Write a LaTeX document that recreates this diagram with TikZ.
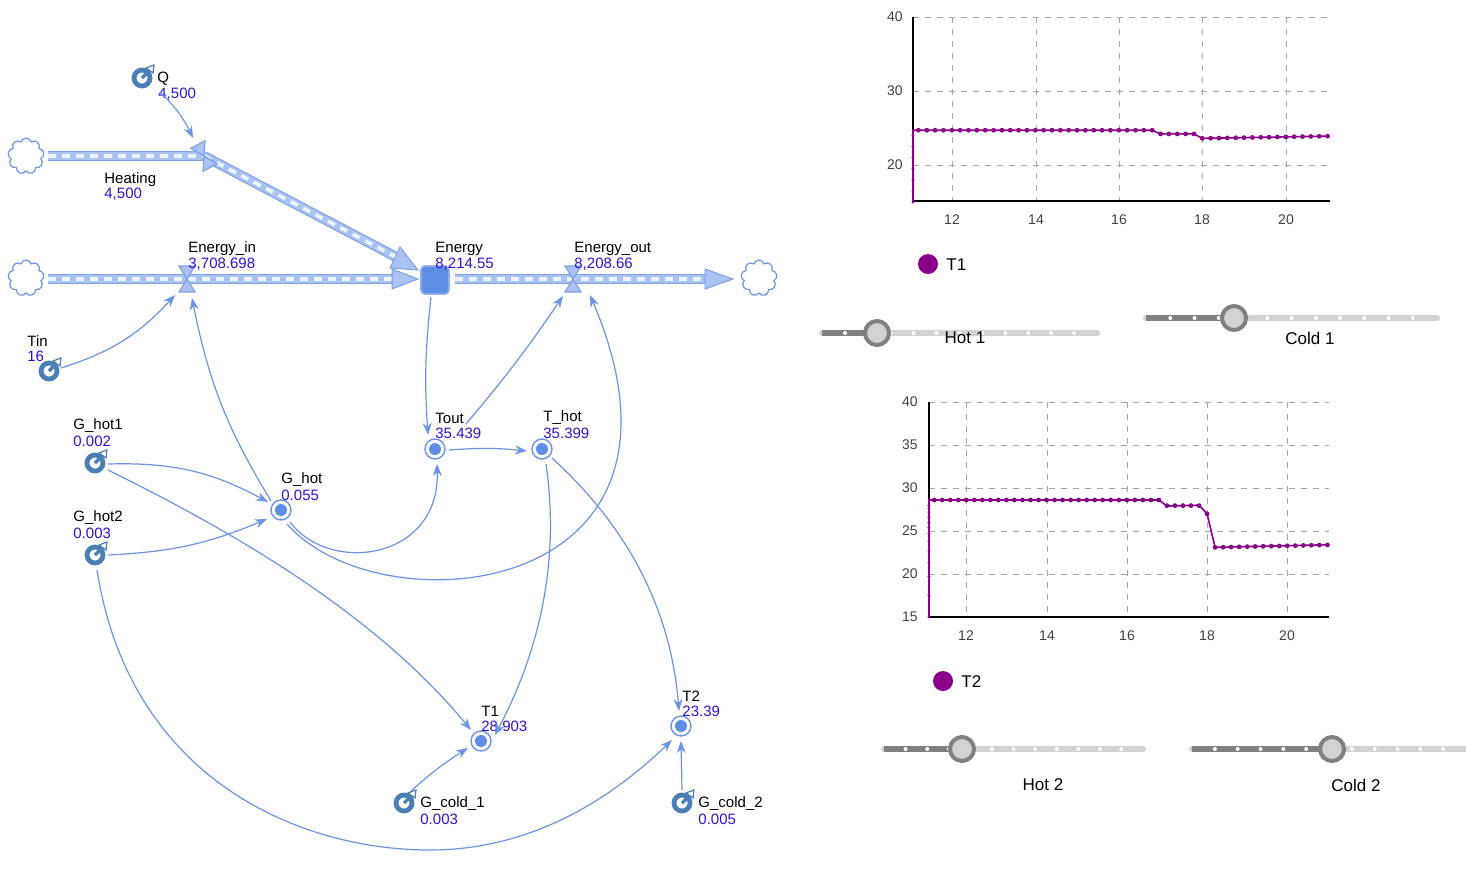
\documentclass[tikz,border=0pt]{standalone}
\usepackage{fontspec}
\setmainfont{Liberation Sans}
\usetikzlibrary{arrows.meta,shapes.symbols,shapes.geometric,calc}
\definecolor{lnk}{HTML}{6B93E6}
\definecolor{pipe}{HTML}{ABC3F2}
\definecolor{pipeb}{HTML}{7EA0E8}
\definecolor{conv}{HTML}{4A7FB5}
\definecolor{val}{HTML}{2E12D6}
\definecolor{plum}{HTML}{8B008B}
\definecolor{stk}{HTML}{5E8DE6}
\tikzset{
 lbl/.style={anchor=west,font=\fontsize{7.5}{8}\selectfont,inner sep=0pt},
 vl/.style={lbl,text=val},
 link/.style={draw=lnk,line width=0.6pt,-{Stealth[length=6pt,width=4.5pt]}},
 cld/.style={cloud,cloud puffs=9,draw=lnk,fill=white,line width=0.6pt,minimum width=18pt,minimum height=18pt,aspect=1,inner sep=0pt},
 auxo/.style={circle,draw=lnk,fill=white,line width=0.7pt,minimum size=10pt,inner sep=0pt},
 tick/.style={font=\fontsize{7}{8}\selectfont,text=black!75,inner sep=1pt},
 gridl/.style={gray!70,dashed,line width=0.4pt},
 pdot/.style={circle,fill=plum,inner sep=0pt,minimum size=2.4pt},
 knob/.style={circle,draw=gray,fill=gray!35,line width=2pt,minimum size=12pt,inner sep=0pt},
}
\newcommand{\pipeflow}[2]{%
 \draw[pipeb,line width=5pt] #1 -- #2;
 \draw[pipe,line width=3.8pt] #1 -- #2;
 \draw[white!80!pipe,line width=1.8pt,dash pattern=on 4pt off 3pt] #1 -- #2;}
\newcommand{\conv}[2]{%
 \coordinate (#1) at #2;
 \draw[conv,line width=2.4pt] #2 circle[radius=8];
 \draw[conv,line width=1.6pt] #2 -- ++(6,-6);
 \draw[conv,fill=white,line width=0.6pt] ($#2+(4,-10)$) -- ++(8,-3) -- ++(-1,8) -- cycle;}
\newcommand{\auxn}[2]{%
 \node[auxo] (#1) at #2 {};
 \fill[stk] #2 circle[radius=6];}
\newcommand{\valveh}[2]{%
 \coordinate (#1) at #2;
 \draw[pipeb,fill=pipe,line width=0.6pt] ($#2+(-8,-13)$) -- ($#2+(8,-13)$) -- ($#2+(-8,13)$) -- ($#2+(8,13)$) -- cycle;}
\begin{document}
\begin{tikzpicture}[x=0.5pt,y=-0.5pt]
\useasboundingbox (0,0) rectangle (1466,868);
% ---------- flows
\node[cld] (c1) at (26,156) {};
\node[cld] (c2) at (26,278) {};
\node[cld] (c3) at (759,278) {};
\node[draw=stk!70,fill=stk,rounded corners=2pt,line width=0.8pt,minimum size=14pt,inner sep=0pt] (E) at (435,280) {};
\pipeflow{(48,156)}{(204,156)}
\pipeflow{(204,156)}{(400,259)}
\fill[pipe,draw=pipeb,line width=0.5pt] (418,270) -- ++(-28,-2) -- ++(10,-21) -- cycle;
\pipeflow{(48,279)}{(392,279)}
\fill[pipe,draw=pipeb,line width=0.5pt] (418,279) -- ++(-26,-10) -- ++(0,20) -- cycle;
\pipeflow{(455,279)}{(705,279)}
\fill[pipe,draw=pipeb,line width=0.5pt] (733,279) -- ++(-28,-10) -- ++(0,20) -- cycle;
\begin{scope}[shift={(204,156)},rotate=28]
\draw[pipeb,fill=pipe,line width=0.6pt] (-8,-13) -- (8,-13) -- (-8,13) -- (8,13) -- cycle;
\end{scope}
\coordinate (Hv) at (204,156);
\valveh{Ein}{(187,279)}
\valveh{Eout}{(573,279)}
% ---------- nodes
\conv{Q}{(142,78)}
\conv{Tin}{(49,371)}
\conv{Gh1}{(95,463)}
\conv{Gh2}{(95,555)}
\conv{Gc1}{(404,803)}
\conv{Gc2}{(682,803)}
\auxn{Gh}{(281,510)}
\auxn{Tout}{(435,449)}
\auxn{Thot}{(542,449)}
\auxn{T1}{(481,741)}
\auxn{T2}{(681,726)}
% ---------- labels
\node[lbl] at (157,79) {Q}; \node[vl] at (158,94) {4,500};
\node[lbl] at (104,180) {Heating}; \node[vl] at (104,194) {4,500};
\node[lbl] at (188,249) {Energy\_in}; \node[vl] at (188,264) {3,708.698};
\node[lbl] at (435,249) {Energy}; \node[vl] at (435,264) {8,214.55};
\node[lbl] at (574,249) {Energy\_out}; \node[vl] at (574,264) {8,208.66};
\node[lbl] at (27,341) {Tin}; \node[vl] at (27,356) {16};
\node[lbl] at (73,426) {G\_hot1}; \node[vl] at (73,441) {0.002};
\node[lbl] at (73,518) {G\_hot2}; \node[vl] at (73,533) {0.003};
\node[lbl] at (281,480) {G\_hot}; \node[vl] at (281,495) {0.055};
\node[lbl] at (435,418) {Tout}; \node[vl] at (435,433) {35.439};
\node[lbl] at (543,418) {T\_hot}; \node[vl] at (543,433) {35.399};
\node[lbl] at (481,711) {T1}; \node[vl] at (481,726) {28.903};
\node[lbl] at (682,696) {T2}; \node[vl] at (682,711) {23.39};
\node[lbl] at (420,804) {G\_cold\_1}; \node[vl] at (420,819) {0.003};
\node[lbl] at (698,804) {G\_cold\_2}; \node[vl] at (698,819) {0.005};
% ---------- links
\draw[link] (Q) ++(18,14) to[bend left=10] ($(Hv)+(-11,-18)$);
\draw[link] (Tin) ++(12,-3) to[bend right=15] ($(Ein)+(-12,16)$);
\draw[link] (Gh) ++(-10,-9) to[bend left=10] ($(Ein)+(5,19)$);
\draw[link] (E) ++(-4,17) to[bend right=5] ($(Tout)+(-7,-14)$);
\draw[link] (Tout) ++(31,-25) to[bend right=3] ($(Eout)+(-10,17)$);
\draw[link] (Tout) ++(14,1) to[bend left=5] ($(Thot)+(-15,2)$);
\draw[link] (Gh1) ++(13,1) to[bend left=15] ($(Gh)+(-13,-8)$);
\draw[link] (Gh2) ++(13,0) to[bend right=10] ($(Gh)+(-14,9)$);
\draw[link] (Gh) ++(9,12) .. controls (330,575) and (440,560) .. ($(Tout)+(2,15)$);
\draw[link] (Gh) ++(6,14) .. controls (380,630) and (720,600) .. ($(Eout)+(17,16)$);
\draw[link] (Gh1) ++(13,7) .. controls (250,540) and (380,620) .. ($(T1)+(-10,-11)$);
\draw[link] (Thot) ++(4,15) .. controls (560,560) and (540,650) .. ($(T1)+(14,-6)$);
\draw[link] (Thot) ++(10,9) .. controls (620,520) and (670,600) .. ($(T2)+(-2,-15)$);
\draw[link] (Gh2) ++(2,15) .. controls (130,780) and (300,850) .. (430,850) .. controls (540,850) and (620,790) .. ($(T2)+(-9,14)$);
\draw[link] (Gc1) ++(6,-11) to[bend left=5] ($(T1)+(-13,7)$);
\draw[link] (Gc2) ++(0,-13) -- ($(T2)+(0,15)$);
% ---------- chart 1
\foreach \yy/\v in {17/40,91/30,165/20}{
 \draw[gridl] (913,\yy) -- (1330,\yy);
 \node[tick,anchor=east] at (905,\yy) {\v};}
\foreach \xx/\v in {952/12,1036/14,1119/16,1202/18,1286/20}{
 \draw[gridl] (\xx,17) -- (\xx,201);
 \node[tick] at (\xx,220) {\v};}
\draw[black,line width=0.6pt] (913,17) -- (913,201) -- (1330,201);
\begin{scope}[shift={(450.8,313)},xscale=41.75,yscale=-7.4]
\draw[plum,line width=0.8pt] (11.07,15) -- (11.07,24.7) -- (11.2,24.7) -- (16.8,24.7) -- (17.0,24.2) -- (17.8,24.2) -- (18.0,23.6) -- (21,23.9);
\foreach \v in {15,16.5,18,19.5,21,22.5,24}{\node[pdot,minimum size=1.6pt] at (11.07,\v) {};}
\foreach \t in {11.2,11.4,...,16.9}{\node[pdot] at (\t,24.7) {};}
\foreach \t in {17.0,17.2,...,17.9}{\node[pdot] at (\t,24.2) {};}
\foreach \t in {18.0,18.2,...,21.05}{\pgfmathsetmacro\vv{23.6+(\t-18)*0.1}\node[pdot] at (\t,\vv) {};}
\end{scope}
\fill[plum] (928,264) circle[radius=10];
\node[lbl,font=\fontsize{8.5}{9}\selectfont] at (946,265) {T1};
% ---------- chart 2
\foreach \yy/\v in {402/40,445/35,488/30,531/25,574/20,617/15}{
 \ifnum\v>15 \draw[gridl] (929,\yy) -- (1329,\yy);\fi
 \node[tick,anchor=east] at (920,\yy) {\v};}
\foreach \xx/\v in {966/12,1047/14,1127/16,1207/18,1287/20}{
 \draw[gridl] (\xx,402) -- (\xx,617);
 \node[tick] at (\xx,636) {\v};}
\draw[black,line width=0.6pt] (929,402) -- (929,617) -- (1329,617);
\begin{scope}[shift={(484.8,746)},xscale=40.125,yscale=-8.6]
\draw[plum,line width=0.8pt] (11.07,15) -- (11.07,28.6) -- (11.2,28.6) -- (16.8,28.6) -- (17.0,27.9) -- (17.8,28.0) -- (18.0,27.0) -- (18.2,23.1) -- (21,23.4);
\foreach \v in {15,17.5,19.7,21.3,22.7,23.8,24.7,25.4,26,26.6,27.1,27.6,28}{\node[pdot,minimum size=1.6pt] at (11.07,\v) {};}
\foreach \t in {11.2,11.4,...,16.9}{\node[pdot] at (\t,28.6) {};}
\foreach \t in {17.0,17.2,...,17.9}{\node[pdot] at (\t,27.95) {};}
\node[pdot] at (18.0,27.0) {};
\foreach \t in {18.2,18.4,...,21.05}{\pgfmathsetmacro\vv{23.1+(\t-18.2)*0.1}\node[pdot] at (\t,\vv) {};}
\end{scope}
\fill[plum] (943,681) circle[radius=10];
\node[lbl,font=\fontsize{8.5}{9}\selectfont] at (961,682) {T2};
% ---------- sliders
\newcommand{\slider}[5]{% name, x0, x1, y, knob
 \draw[gray!35,line width=3pt,line cap=round] (#2,#4) -- (#3,#4);
 \draw[gray,line width=3pt] (#2,#4) -- (#5,#4);
 \pgfmathsetmacro\st{(#3-#2)/12}
 \foreach \k in {1,...,11}{\fill[white] ({#2+\k*\st},#4) circle[radius=2];}
 \node[knob] (#1) at (#5,#4) {};}
\slider{s1}{822}{1097}{333}{877}
\node[font=\fontsize{8.5}{9}\selectfont,inner sep=0pt] at (965,338) {Hot 1};
\slider{s2}{1146}{1437}{318}{1234}
\node[font=\fontsize{8.5}{9}\selectfont,inner sep=0pt] at (1310,338) {Cold 1};
\slider{s3}{884}{1143}{749}{962}
\node[font=\fontsize{8.5}{9}\selectfont,inner sep=0pt] at (1043,785) {Hot 2};
\slider{s4}{1192}{1466}{749}{1332}
\node[font=\fontsize{8.5}{9}\selectfont,inner sep=0pt] at (1356,785) {Cold 2};
\end{tikzpicture}
\end{document}
